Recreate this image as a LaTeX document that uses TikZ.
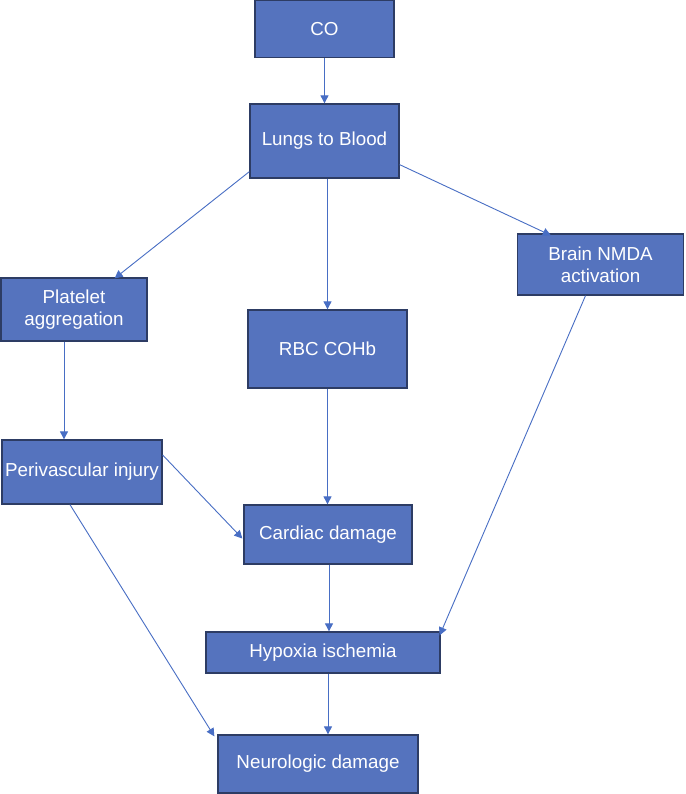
\documentclass[tikz,border=0pt]{standalone}
\usepackage{fontspec}
\setmainfont{Liberation Sans}
\usetikzlibrary{arrows.meta}
\definecolor{boxblue}{RGB}{85,115,190}
\definecolor{boxedge}{RGB}{45,60,100}
\definecolor{linkblue}{RGB}{72,110,196}

\begin{document}
\begin{tikzpicture}[x=1pt,y=-1pt,
  box/.style={rectangle,draw=boxedge,fill=boxblue,line width=1.3pt,text=white,
    inner sep=0pt,align=center,font=\fontsize{18.8}{22}\selectfont},
  link/.style={draw=linkblue,line width=0.9pt,-{Triangle[width=8pt,length=8pt]}}]
\useasboundingbox[fill=white] (0,0) rectangle (685,794);
\node[box,minimum width=139pt,minimum height=57pt] (co) at (324.5,29) {CO};
\node[box,minimum width=149pt,minimum height=74pt] (lungs) at (324.5,141) {Lungs to Blood};
\node[box,minimum width=166pt,minimum height=61pt] (brain) at (600.5,264.5) {Brain NMDA\\activation};
\node[box,minimum width=146pt,minimum height=63pt] (platelet) at (74,309.5) {Platelet\\aggregation};
\node[box,minimum width=159pt,minimum height=78pt] (rbc) at (327.5,349) {RBC COHb};
\node[box,minimum width=160pt,minimum height=64pt] (perivasc) at (82,472) {Perivascular injury};
\node[box,minimum width=168pt,minimum height=59pt] (cardiac) at (328,534.5) {Cardiac damage};
\node[box,minimum width=234pt,minimum height=41pt] (hypoxia) at (323,652.5) {Hypoxia ischemia};
\node[box,minimum width=200pt,minimum height=58pt] (neuro) at (318,764) {Neurologic damage};

\draw[link] (co.south) -- (lungs.north);
\draw[link] ([yshift=7pt]lungs.south west) -- ([xshift=-33pt,yshift=-1pt]platelet.north east);
\draw[link] ([xshift=3pt]lungs.south) -- ([xshift=3pt]lungs.south |- rbc.north);
\draw[link] ([yshift=14pt]lungs.south east) -- ([xshift=34pt,yshift=-2pt]brain.north west);
\draw[link] ([xshift=-15pt]brain.south) -- ([xshift=-1pt,yshift=-4pt]hypoxia.north east);
\draw[link] ([xshift=-10pt]platelet.south) -- ([xshift=-10pt]platelet.south |- perivasc.north);
\draw[link] ([yshift=17pt]perivasc.east) -- ([xshift=-1pt,yshift=-4pt]cardiac.west);
\draw[link] ([xshift=-12pt]perivasc.south) -- ([xshift=-3pt,yshift=-2pt]neuro.north west);
\draw[link] (rbc.south) -- (rbc.south |- cardiac.north);
\draw[link] ([xshift=1pt]cardiac.south) -- ([xshift=1pt]cardiac.south |- hypoxia.north);
\draw[link] ([xshift=5pt]hypoxia.south) -- ([xshift=5pt]hypoxia.south |- neuro.north);
\end{tikzpicture}
\end{document}
